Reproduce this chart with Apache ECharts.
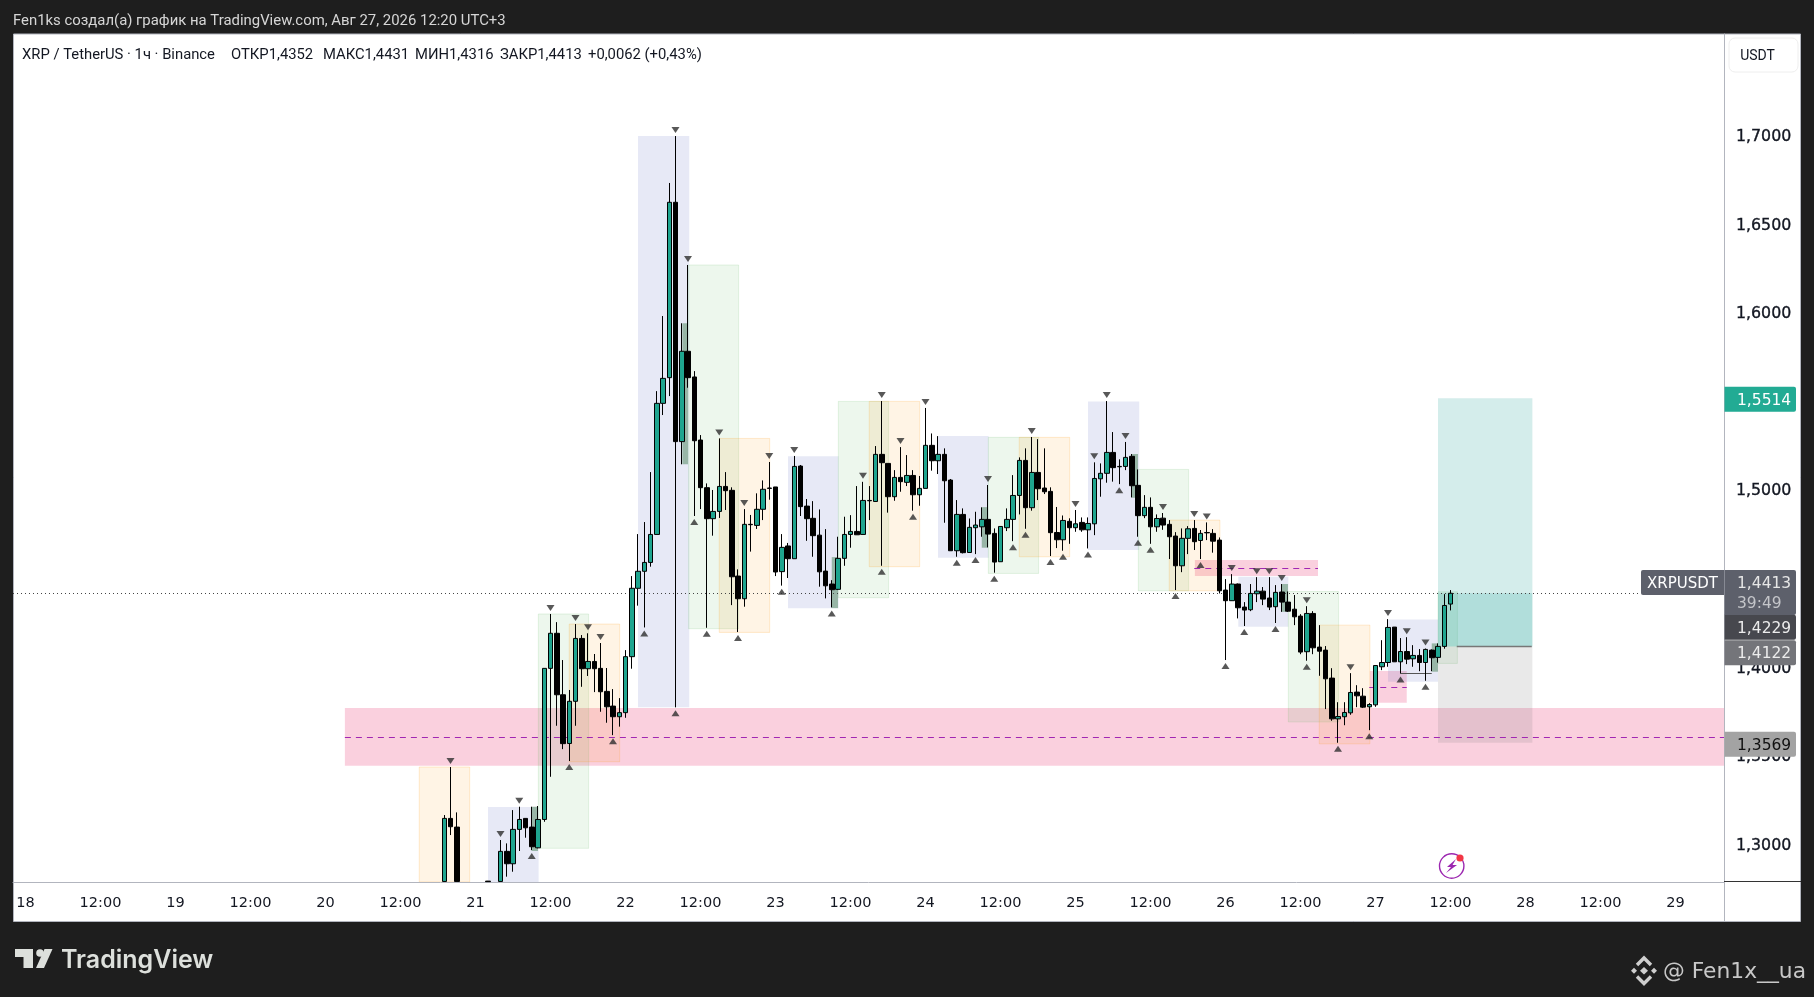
<!DOCTYPE html>
<html><head><meta charset="utf-8">
<style>html,body{margin:0;padding:0;background:#1e1e1e}#c{width:1814px;height:997px}</style>
<script src="https://cdn.jsdelivr.net/npm/echarts@6/dist/echarts.min.js"></script></head>
<body><div id="c"></div>
<script>
// hour = hours since Aug 18 00:00. Rows: [hour, open, close, low, high]
const candlesA = [
[67,1.2786,1.3142,1.2786,1.3161],[68,1.3142,1.3095,1.3048,1.3432],[69,1.3093,1.2786,1.2786,1.3176],
[74,1.2788,1.2785,1.2785,1.2789],[76,1.2786,1.2956,1.2786,1.3020],[77,1.2956,1.2886,1.2813,1.3001],
[78,1.2886,1.3080,1.2841,1.3189],[79,1.3080,1.3136,1.2958,1.3208],[80,1.3142,1.3089,1.3033,1.3142],
[81,1.3093,1.2982,1.2963,1.3208],[82,1.2976,1.3136,1.2973,1.3212],[83,1.3136,1.3989,1.3123,1.3989],
[84,1.3989,1.4187,1.3377,1.4296],[85,1.4187,1.3840,1.3665,1.4250],[86,1.3840,1.3564,1.3533,1.4036],
[87,1.3565,1.3803,1.3466,1.3867],[88,1.3803,1.4158,1.3665,1.4239],[89,1.4158,1.3987,1.3885,1.4177],
[90,1.3987,1.4028,1.3946,1.4187],[91,1.4028,1.3987,1.3855,1.4070],[92,1.3989,1.3857,1.3744,1.4132],
[93,1.3859,1.3772,1.3682,1.3991],[94,1.3776,1.3716,1.3612,1.3872],[95,1.3716,1.3739,1.3660,1.3821],
[96,1.3739,1.4055,1.3710,1.4092],[97,1.4055,1.4441,1.3987,1.4510],[98,1.4441,1.4537,1.4343,1.4747],
[99,1.4537,1.4587,1.4220,1.4815],[100,1.4587,1.4745,1.4563,1.5097],[101,1.4745,1.5485,1.4745,1.5554],
[102,1.5485,1.5626,1.5419,1.5978],[103,1.5630,1.6620,1.5526,1.6729],[104,1.6620,1.5269,1.3769,1.6994],
[105,1.5269,1.5779,1.5141,1.5937],[106,1.5779,1.5630,1.5573,1.6266],[107,1.5634,1.5274,1.4849,1.5667],
[108,1.5278,1.5009,1.4888,1.5306],[109,1.5009,1.4834,1.4218,1.5033],[110,1.4834,1.4875,1.4738,1.4996],
[111,1.4875,1.5016,1.4838,1.5287],[112,1.5016,1.4992,1.4883,1.5097],[113,1.4994,1.4506,1.4346,1.5011],
[114,1.4510,1.4382,1.4194,1.4548],[115,1.4382,1.4802,1.4337,1.4888],[116,1.4802,1.4800,1.4648,1.4855],
[117,1.4796,1.4887,1.4776,1.4977],[118,1.4887,1.5000,1.4826,1.5050],[119,1.5007,1.5005,1.4941,1.5154],
[120,1.5013,1.4533,1.4510,1.5013],[121,1.4535,1.4672,1.4456,1.4747],[122,1.4680,1.4608,1.4499,1.4697],
[123,1.4608,1.5129,1.4608,1.5188],[124,1.5131,1.4902,1.4849,1.5137],[125,1.4905,1.4834,1.4709,1.4945],
[126,1.4836,1.4738,1.4619,1.4933],[127,1.4741,1.4534,1.4450,1.4886],[128,1.4538,1.4455,1.4384,1.4775],
[129,1.4465,1.4433,1.4333,1.4487],[130,1.4435,1.4610,1.4431,1.4732],[131,1.4610,1.4745,1.4568,1.4845],
[132,1.4745,1.4762,1.4670,1.4854],[133,1.4762,1.4743,1.4743,1.5018],[134,1.4745,1.4937,1.4743,1.5042],
[135,1.4937,1.4935,1.4826,1.5018],[136,1.4931,1.5197,1.4930,1.5244],[137,1.5197,1.5150,1.4568,1.5498],
[138,1.5146,1.4958,1.4868,1.5146],[139,1.4958,1.5067,1.4935,1.5108],[140,1.5067,1.5043,1.4986,1.5238],
[141,1.5039,1.5078,1.5018,1.5193],[142,1.5078,1.4969,1.4879,1.5108],[143,1.4969,1.5005,1.4907,1.5075]
];
const candlesB = [
[144,1.5005,1.5248,1.5005,1.5459],[145,1.5248,1.5161,1.5105,1.5315],[146,1.5161,1.5197,1.5086,1.5300],
[147,1.5197,1.5048,1.4811,1.5231],[148,1.5052,1.4653,1.4653,1.5058],[149,1.4653,1.4858,1.4619,1.4939],
[150,1.4858,1.4642,1.4638,1.4892],[151,1.4643,1.4785,1.4642,1.4835],[152,1.4783,1.4798,1.4634,1.4873],
[153,1.4788,1.4830,1.4732,1.4898],[154,1.4830,1.4747,1.4672,1.5024],[155,1.4751,1.4589,1.4529,1.4779],
[156,1.4591,1.4790,1.4591,1.4790],[157,1.4783,1.4830,1.4764,1.4892],[158,1.4830,1.4965,1.4707,1.5080],
[159,1.4965,1.5163,1.4858,1.5180],[160,1.5163,1.4896,1.4777,1.5231],[161,1.4896,1.5095,1.4879,1.5295],
[162,1.5095,1.5003,1.4939,1.5283],[163,1.5007,1.4986,1.4973,1.5231],[164,1.4988,1.4755,1.4623,1.5011],
[165,1.4756,1.4715,1.4668,1.4900],[166,1.4715,1.4824,1.4653,1.4852],[167,1.4819,1.4783,1.4692,1.4836],
[168,1.4783,1.4805,1.4760,1.4883],[169,1.4813,1.4771,1.4760,1.4841],[170,1.4771,1.4807,1.4666,1.4841],
[171,1.4805,1.5061,1.4741,1.5152],[172,1.5059,1.5090,1.4958,1.5146],[173,1.5090,1.5208,1.5037,1.5498],
[174,1.5208,1.5122,1.5043,1.5323],[175,1.5129,1.5127,1.5029,1.5169],[176,1.5129,1.5180,1.5108,1.5267],
[177,1.5186,1.5020,1.4954,1.5199],[178,1.5022,1.4851,1.4732,1.5112],[179,1.4851,1.4898,1.4837,1.4967],
[180,1.4898,1.4788,1.4692,1.4954],[181,1.4788,1.4835,1.4760,1.4858],[182,1.4837,1.4798,1.4771,1.4866],
[183,1.4802,1.4732,1.4606,1.4826],[184,1.4736,1.4568,1.4431,1.4758],[185,1.4568,1.4723,1.4532,1.4779],
[186,1.4723,1.4777,1.4634,1.4792],[187,1.4779,1.4704,1.4657,1.4826],[188,1.4711,1.4751,1.4606,1.4770],
[189,1.4756,1.4754,1.4713,1.4813],[190,1.4751,1.4707,1.4642,1.4775],[191,1.4713,1.4427,1.4412,1.4728]
];
const candlesC = [
[192,1.4431,1.4371,1.4036,1.4493],[193,1.4371,1.4465,1.4370,1.4521],[194,1.4465,1.4331,1.4271,1.4468],
[195,1.4335,1.4318,1.4228,1.4363],[196,1.4320,1.4412,1.4312,1.4465],[197,1.4410,1.4425,1.4363,1.4504],
[198,1.4425,1.4380,1.4346,1.4448],[199,1.4386,1.4335,1.4318,1.4504],[200,1.4337,1.4418,1.4245,1.4459],
[201,1.4420,1.4363,1.4308,1.4465],[202,1.4363,1.4312,1.4307,1.4423],[203,1.4323,1.4280,1.4233,1.4403],
[204,1.4284,1.4081,1.4069,1.4295],[205,1.4083,1.4299,1.4032,1.4340],[206,1.4299,1.4105,1.4069,1.4312],
[207,1.4109,1.4086,1.3947,1.4233],[208,1.4092,1.3930,1.3759,1.4115],[209,1.3934,1.3704,1.3693,1.3990],
[210,1.3704,1.3717,1.3569,1.3798],[211,1.3716,1.3740,1.3668,1.3798],[212,1.3738,1.3853,1.3727,1.3962],
[213,1.3855,1.3834,1.3770,1.3894],[214,1.3832,1.3770,1.3765,1.3877],[215,1.3772,1.3785,1.3640,1.3793],
[216,1.3783,1.4005,1.3772,1.4005],[217,1.3998,1.4022,1.3979,1.4148],[218,1.4022,1.4220,1.3998,1.4267],
[219,1.4222,1.4026,1.4026,1.4222],[220,1.4026,1.4084,1.3960,1.4160],[221,1.4084,1.4041,1.4013,1.4165],
[222,1.4043,1.4062,1.3998,1.4120],[223,1.4062,1.4022,1.3973,1.4098],[224,1.4022,1.4096,1.3919,1.4101],
[225,1.4092,1.4049,1.3973,1.4096],[226,1.4051,1.4113,1.4021,1.4130],[227,1.4113,1.4344,1.4100,1.4408],
[228,1.4352,1.4413,1.4316,1.4431]
];
const highMarkHours = [68,76,79,84,88,90,92,104,106,111,115,119,123,134,137,140,144,154,161,168,171,173,176,182,187,189,193,197,199,201,205,212,218,221,224];
const lowMarkHours = [81,87,94,99,104,107,109,114,121,129,137,142,149,152,155,158,160,164,166,170,175,178,180,184,188,192,195,200,205,210,215,220,224];

// zones: [fromHour, toHour, topPrice, bottomPrice]
const pinkZones = [[51.1,272,1.3765,1.3439],[187.1,206.8,1.4600,1.4510],[215.1,221,1.3974,1.3795]];
const blueZones = [[74,82.1,1.3206,1.27],[98,106.2,1.6994,1.3769],[122,130.1,1.5187,1.4329],[146,154.1,1.5300,1.4613],[170,178.2,1.5496,1.4657],[194.05,202.05,1.4506,1.4224],[218,226,1.4265,1.3913]];
const greenZones = [[82.05,90.1,1.4296,1.2973],[106.1,114.1,1.6266,1.4213],[130.05,138.1,1.5496,1.4388],[154.05,162.1,1.5293,1.4525],[178.05,186.1,1.5112,1.4427],[202.05,210.1,1.4423,1.3687],[226,229.1,1.4421,1.4017]];
const orangeZones = [[63,71.07,1.3432,1.27],[87,95.07,1.4239,1.3462],[111,119.07,1.5287,1.4192],[135,143.07,1.5496,1.4563],[159,167.07,1.5293,1.4619],[183,191.1,1.4826,1.4427],[207,215.1,1.4233,1.3563]];
const stripZones = [[81,82,1.3208,1.2958],[105.1,106,1.5937,1.5141],[129,130,1.4617,1.4329],[153,154,1.4899,1.4670],[177,178,1.5199,1.4952],[201,202,1.4465,1.4308],[225,226,1.4130,1.3970]];
const profitZones = [[226,241.1,1.5514,1.4113],[226,241.1,1.4413,1.4113]];
const lossZones = [[226,241.1,1.4113,1.3569]];

// lines: [fromHour, toHour, price]
const dashedLevels = [[51.1,272,1.3599],[187,206.8,1.4553],[215,221,1.3881]];
const solidLevels = [[220,225,1.3960]];
const entryLevels = [[229,241,1.4113]];
const lastPriceLevels = [[-2,258.5,1.4413]];

const xTickLabels = ['18','12:00','19','12:00','20','12:00','21','12:00','22','12:00','23','12:00','24','12:00','25','12:00','26','12:00','27','12:00','28','12:00','29'];
const yTicks = [1.30,1.35,1.40,1.45,1.50,1.55,1.60,1.65,1.70];
const priceTags = [
 {t:'1,5514',p:1.5514,dy:1,h:25,bg:'#22ab94',fg:'#ffffff'},
 {t:'1,3569',p:1.3569,dy:1.5,h:25,bg:'#a3a3a3',fg:'#111111'},
 {t:'1,4122',p:1.4122,dy:8,h:25,bg:'#74757a',fg:'#ececec'},
 {t:'1,4229',p:1.4229,dy:1.5,h:25,bg:'#47484e',fg:'#ececec'},
 {t:'1,4413',sub:'39:49',p:1.4413,dy:0,h:45,bg:'#5d606b',fg:'#e6e6e6'}
];
const symbolTag = 'XRPUSDT';
const headerText = 'Fen1ks создал(а) график на TradingView.com, Авг 27, 2026 12:20 UTC+3';
const legendParts = ['XRP / TetherUS · 1ч · Binance','ОТКР1,4352','МАКС1,4431','МИН1,4316','ЗАКР1,4413','+0,0062 (+0,43%)'];
const legendX = [22,231,323,415,500,588];

const candles = candlesA.concat(candlesB, candlesC);
const byHour = {}; candles.forEach(r => byHour[r[0]] = r);
const H = {left:13,right:1724,top:34,bottom:882};
const AX = "'DejaVu Sans'";
const TXT_DY = 1.5;

function zoneSeries(list, fill, stroke){
  return {type:'custom',coordinateSystem:'cartesian2d',silent:true,clip:true,z:1,
    data:list,encode:{x:[0,1],y:[2,3]},
    renderItem(params,api){
      const a=api.coord([api.value(0),api.value(2)]),b=api.coord([api.value(1),api.value(3)]);
      const r=echarts.graphic.clipRectByRect({x:a[0],y:a[1],width:b[0]-a[0],height:b[1]-a[1]},params.coordSys);
      if(!r) return;
      return {type:'rect',shape:r,style:{fill,stroke:stroke||null,lineWidth:1}};
    }};
}
function lineSeries(list, color, dash, lw){
  return {type:'custom',coordinateSystem:'cartesian2d',silent:true,z:3,
    data:list,encode:{x:[0,1],y:2},
    renderItem(params,api){
      const a=api.coord([api.value(0),api.value(2)]),b=api.coord([Math.min(api.value(1),271.76),api.value(2)]);
      const y=Math.round(a[1])+.5;
      return {type:'line',shape:{x1:a[0],y1:y,x2:b[0],y2:y},style:{stroke:color,lineWidth:lw||1,lineDash:dash||null}};
    }};
}
const tagSeries = {type:'custom',coordinateSystem:'cartesian2d',silent:true,z:20,
  data:priceTags.map(t=>[271.76,t.p]),encode:{x:0,y:1},
  renderItem(params,api){
    const t=priceTags[params.dataIndex];
    const c=api.coord([271.76,t.p]);
    const yc=c[1]+t.dy;
    const font="15.5px "+AX;
    if(t.sub){
      const top=570;
      return {type:'group',children:[
        {type:'rect',shape:{x:1641,y:top,width:83,height:25,r:[2,0,0,2]},style:{fill:t.bg}},
        {type:'text',style:{x:1682.5,y:top+12.5+TXT_DY,text:symbolTag,font:"15px "+AX,fill:'#fff',align:'center',verticalAlign:'middle'}},
        {type:'rect',shape:{x:1724.5,y:top,width:71.5,height:t.h,r:[0,2,2,0]},style:{fill:t.bg}},
        {type:'text',style:{x:1737,y:top+12.5+TXT_DY,text:t.t,font,fill:t.fg,verticalAlign:'middle'}},
        {type:'text',style:{x:1737,y:top+32+TXT_DY,text:t.sub,font,fill:'#c4c5c9',verticalAlign:'middle'}}
      ]};
    }
    return {type:'group',children:[
      {type:'rect',shape:{x:1724.5,y:yc-t.h/2,width:71.5,height:t.h,r:[0,2,2,0]},style:{fill:t.bg}},
      {type:'text',style:{x:1737,y:yc+TXT_DY,text:t.t,font,fill:t.fg,verticalAlign:'middle'}}
    ]};
  }};

const P = '#dde0dc';
const graphics = [
 {type:'rect',z:-1,shape:{x:13.5,y:34,width:1787,height:887.5},style:{fill:'#fff',stroke:'#b2b5be',lineWidth:1},silent:true},
 {type:'text',style:{x:13,y:21,text:headerText,font:"14.9px Roboto",fill:'#d6d6d6',verticalAlign:'middle'}},
 ...legendParts.map((t,i)=>({type:'text',z:30,style:{x:legendX[i],y:55,text:t,font:"14.8px Roboto",fill:'#131722',verticalAlign:'middle'}})),
 {type:'rect',z:5,shape:{x:1729,y:38,width:69,height:34,r:6},style:{fill:'#fff',stroke:'#eeeeee',lineWidth:1}},
 {type:'text',z:6,style:{x:1757.5,y:56,text:'USDT',font:"14px Roboto",fill:'#131722',align:'center',verticalAlign:'middle'}},
 {type:'line',z:5,shape:{x1:1724,y1:881.5,x2:1801,y2:881.5},style:{stroke:'#333',lineWidth:1}},
 {type:'line',z:5,shape:{x1:1724.5,y1:882,x2:1724.5,y2:921},style:{stroke:'#b2b5be',lineWidth:1}},
 // TradingView mark
 {type:'polygon',shape:{points:[[15,949],[33,949],[33,968],[23.5,968],[23.5,957],[15,957]]},style:{fill:P}},
 {type:'circle',shape:{cx:40,cy:953,r:3.8},style:{fill:P}},
 {type:'polygon',shape:{points:[[44.5,949],[52.5,949],[44,968],[36,968]]},style:{fill:P}},
 {type:'text',style:{x:61,y:960,text:'TradingView',font:"600 25px Inter",fill:P,verticalAlign:'middle'}},
 // Binance mark
 {type:'polyline',shape:{points:[[1637,965],[1644,958],[1651,965]]},style:{stroke:'#cfcfcf',lineWidth:3.4,fill:null}},
 {type:'polyline',shape:{points:[[1637,976.5],[1644,983.5],[1651,976.5]]},style:{stroke:'#cfcfcf',lineWidth:3.4,fill:null}},
 {type:'polygon',shape:{points:[[1644,967],[1648,970.7],[1644,974.4],[1640,970.7]]},style:{fill:'#cfcfcf'}},
 {type:'polygon',shape:{points:[[1634,967.7],[1637,970.7],[1634,973.7],[1631,970.7]]},style:{fill:'#cfcfcf'}},
 {type:'polygon',shape:{points:[[1654,967.7],[1657,970.7],[1654,973.7],[1651,970.7]]},style:{fill:'#cfcfcf'}},
 {type:'text',style:{x:1663,y:972,text:'@ Fen1x__ua',font:"21.8px 'DejaVu Sans'",fill:'#c8c8c8',verticalAlign:'middle'}},
 // lightning badge
 {type:'circle',z:25,shape:{cx:1451.7,cy:866,r:12.2},style:{fill:'#fff',stroke:'#9c27b0',lineWidth:1.4}},
 {type:'polygon',z:26,shape:{points:[[1456,859],[1447,867],[1451,867],[1446,873],[1457,865],[1452.5,865]]},style:{fill:'#9c27b0'}},
 {type:'circle',z:27,shape:{cx:1460,cy:858,r:3.6},style:{fill:'#f23645'}}
];

const chart = echarts.init(document.getElementById('c'),null,{renderer:'canvas'});
chart.setOption({
 animation:false,backgroundColor:'#1e1e1e',
 graphic:{elements:graphics},
 grid:{left:H.left,right:1814-H.right,top:H.top,bottom:997-H.bottom,containLabel:false,show:false},
 xAxis:{type:'value',min:-2,max:271.76,position:'bottom',splitLine:{show:false},
   axisLine:{show:true,onZero:false,lineStyle:{color:'#b2b5be',width:1}},axisTick:{show:false},
   axisLabel:{customValues:xTickLabels.map((_,i)=>i*12),
     formatter:v=>xTickLabels[Math.round(v/12)],color:'#131722',fontFamily:'DejaVu Sans',fontSize:14.5,margin:14}},
 yAxis:{type:'value',min:1.2783,max:1.7570,position:'right',splitLine:{show:false},scale:true,
   axisLine:{show:true,onZero:false,lineStyle:{color:'#b2b5be',width:1}},axisTick:{show:false},
   axisLabel:{customValues:yTicks,formatter:v=>'{a|'+v.toFixed(4).replace('.',',')+'}',margin:12,
     rich:{a:{color:'#131722',fontFamily:'DejaVu Sans',fontSize:15.8,padding:[4,0,0,0],textBorderColor:'#131722',textBorderWidth:0.35}}}},
 series:[
  zoneSeries(pinkZones,'rgba(240,98,146,.3)'),
  zoneSeries(blueZones,'rgba(92,107,192,.15)'),
  zoneSeries(greenZones,'rgba(76,175,80,.1)','rgba(76,175,80,.14)'),
  zoneSeries(orangeZones,'rgba(255,152,0,.1)','rgba(255,152,0,.18)'),
  zoneSeries(stripZones,'rgba(56,120,70,.45)'),
  zoneSeries(profitZones,'rgba(38,166,154,.2)'),
  zoneSeries(lossZones,'rgba(120,120,120,.16)'),
  lineSeries(dashedLevels,'#a126b3',[6,5],1),
  lineSeries(solidLevels,'#555',null,1),
  lineSeries(entryLevels,'#777',null,1.4),
  lineSeries(lastPriceLevels,'#444',[1,3],1),
  {type:'candlestick',z:6,data:candles,encode:{x:0,y:[1,2,3,4]},barWidth:5,
    itemStyle:{color:'#1fa58f',color0:'#000',borderColor:'#000',borderColor0:'#000',borderWidth:1}},
  {type:'scatter',z:7,silent:true,symbol:'triangle',symbolRotate:180,symbolSize:[8,6],symbolOffset:[0,-6],
    data:highMarkHours.map(h=>[h,byHour[h][4]]),itemStyle:{color:'#2e2e2e'}},
  {type:'scatter',z:7,silent:true,symbol:'triangle',symbolSize:[8,6],symbolOffset:[0,6],
    data:lowMarkHours.map(h=>[h,byHour[h][3]]),itemStyle:{color:'#2e2e2e'}},
  tagSeries
 ]
});
</script></body></html>
